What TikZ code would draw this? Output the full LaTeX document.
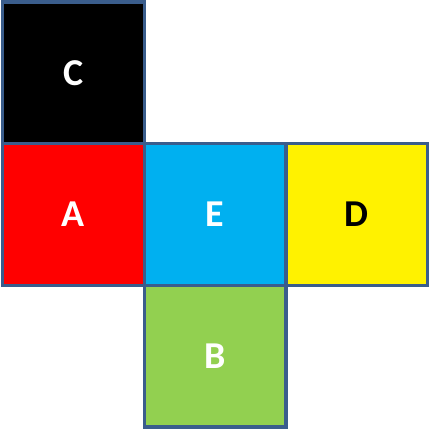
\documentclass[tikz,border=0pt]{standalone}
\usepackage{fontspec}
\setmainfont{Carlito}
\usetikzlibrary{positioning}
\definecolor{edgeblue}{HTML}{3A5D8C}
\definecolor{skyblue}{HTML}{00B0F0}
\definecolor{leafgreen}{HTML}{92D050}
\begin{document}
\begin{tikzpicture}
    [x=0.025cm, y=-0.025cm,
    facenode/.style={rectangle, draw=edgeblue, line width=2.2pt, minimum size=3.54cm, inner sep=0pt, outer sep=0pt, font=\fontsize{27}{31}\selectfont\bfseries},
    node distance=0cm]

    \useasboundingbox (0,0) rectangle (431,431);

    %Faces
    \node[facenode, fill=red, text=white](A) at (73.5,214.5){A};
    \node[facenode, fill=black, text=white](C)[above=of A]{C};
    \node[facenode, fill=skyblue, text=white](E)[right=of A]{E};
    \node[facenode, fill=yellow, text=black](D)[right=of E]{D};
    \node[facenode, fill=leafgreen, text=white](B)[below=of E]{B};
\end{tikzpicture}
\end{document}
